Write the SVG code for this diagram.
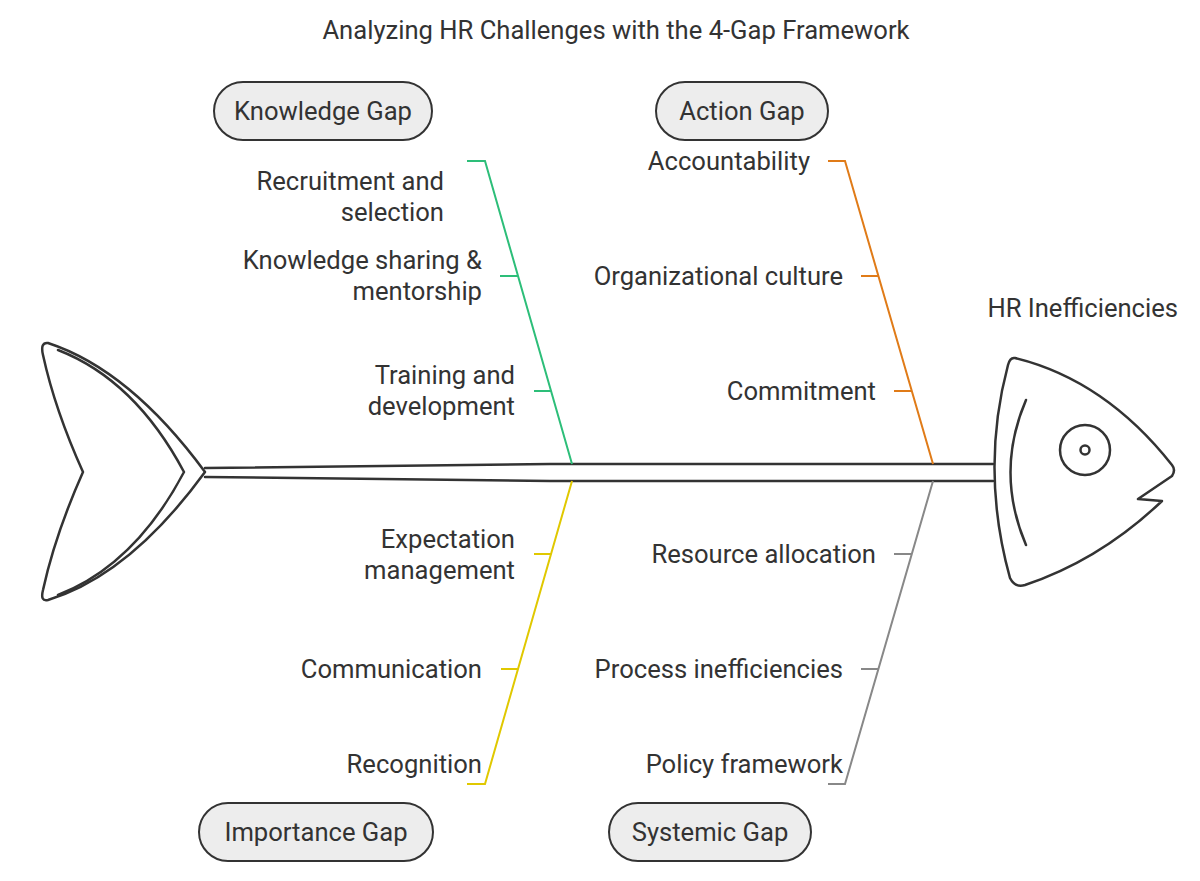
<svg xmlns="http://www.w3.org/2000/svg" width="1200" height="881" viewBox="0 0 1200 881">
<style>
text{font-family:Roboto,"Liberation Sans",sans-serif;fill:#333;font-size:25.6px}
.r{text-anchor:end}.m{text-anchor:middle}
.pill{fill:#ededed;stroke:#333;stroke-width:2}
.f{fill:none;stroke:#333;stroke-width:2.5;stroke-linejoin:round;stroke-linecap:round}
.b{fill:none;stroke-width:2}
</style>
<rect width="1200" height="881" fill="#fff"/>
<text x="616" y="39" class="m" font-size="24.5">Analyzing HR Challenges with the 4-Gap Framework</text>
<g id="fish">
<path class="f" d="M205,468 L550,464 L993,464 M205,477 L550,481 L993,481"/>
<path class="f" d="M205,472 Q130,370 48,343 Q40,342 43,355 Q55,410 83,472 Q55,535 43,590 Q40,602 48,600 Q130,575 205,472 Z"/>
<path class="f" d="M58,350 Q135,380 184,472 Q135,565 58,595"/>
<path class="f" d="M1015,358 Q1105,380 1172,465 Q1176,470 1172,476 L1138,499 L1162,501 Q1100,560 1025,585 Q1015,588 1010,578 Q980,470 1008,365 Q1010,357 1015,358 Z"/>
<path class="f" d="M1026,400 Q995,472 1026,545"/>
<circle class="f" cx="1085" cy="450" r="25"/>
<circle class="f" cx="1085" cy="450" r="4.5"/>
<text x="1178" y="317" class="r">HR Inefficiencies</text>
</g>
<g id="connectors">
<path class="b" stroke="#2dbe79" d="M467,161H485L572,464M500,276H518M534,391H551"/>
<path class="b" stroke="#e07b18" d="M828,161H845L933,464M861,276H878M894,391H911"/>
<path class="b" stroke="#e0c800" d="M467,784H485L572,481M534,554H551M501,669H518"/>
<path class="b" stroke="#888" d="M828,784H845L933,481M894,554H911M861,669H878"/>
</g>
<g id="knowledge"><rect class="pill" x="214" y="82" width="218" height="58" rx="29"/><text x="323" y="120" class="m">Knowledge Gap</text></g>
<g id="action"><rect class="pill" x="656" y="82" width="172" height="58" rx="29"/><text x="742" y="120" class="m" fill="#111">Action Gap</text></g>
<g id="importance"><rect class="pill" x="199" y="803" width="234" height="58" rx="29"/><text x="316" y="841" class="m">Importance Gap</text></g>
<g id="systemic"><rect class="pill" x="609" y="803" width="202" height="58" rx="29"/><text x="710" y="841" class="m">Systemic Gap</text></g>
<g id="causes">
<text x="444" y="190" class="r">Recruitment and</text><text x="444" y="221" class="r">selection</text>
<text x="482" y="269" class="r">Knowledge sharing &amp;</text><text x="482" y="300" class="r">mentorship</text>
<text x="515" y="384" class="r">Training and</text><text x="515" y="415" class="r">development</text>
<text x="810" y="170" class="r">Accountability</text>
<text x="843" y="285" class="r">Organizational culture</text>
<text x="876" y="400" class="r">Commitment</text>
<text x="515" y="548" class="r">Expectation</text><text x="515" y="579" class="r">management</text>
<text x="482" y="678" class="r">Communication</text>
<text x="482" y="773" class="r">Recognition</text>
<text x="876" y="563" class="r">Resource allocation</text>
<text x="843" y="678" class="r">Process inefficiencies</text>
<text x="843" y="773" class="r">Policy framework</text>
</g>
</svg>
